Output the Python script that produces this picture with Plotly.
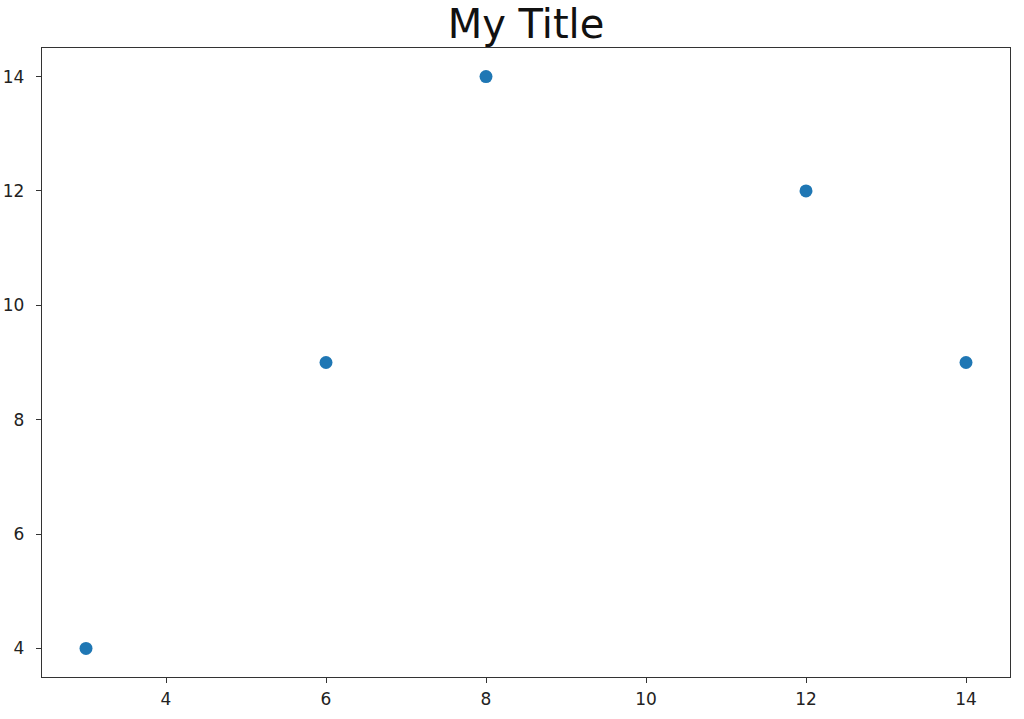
import plotly.graph_objects as go

x_vals = [3, 6, 8, 12, 14]
y_vals = [4, 9, 14, 12, 9]
x_ticks = [4, 6, 8, 10, 12, 14]
y_ticks = [4, 6, 8, 10, 12, 14]

fig = go.Figure(data=go.Scatter(x=x_vals, y=y_vals, mode='markers',
                                marker=dict(size=13, color='#1f77b4')))

axis_style = dict(showline=True, mirror=True, linecolor='#333333', linewidth=1.3,
                  ticks='outside', ticklen=5, tickwidth=1.2, tickcolor='#333333',
                  showgrid=False, zeroline=False, automargin=False,
                  tickfont=dict(family='DejaVu Sans', size=17, color='#222222'))

fig.update_layout(
    width=1024, height=719,
    paper_bgcolor='white', plot_bgcolor='white',
    margin=dict(l=42, r=14, t=48, b=42),
    title=dict(text='My Title', x=526 / 1024, xanchor='center',
               y=1 - 24 / 719, yanchor='middle', yref='container',
               font=dict(family='DejaVu Sans', size=40, color='#111111')),
    xaxis=dict(range=[2.45, 14.55], tickvals=x_ticks, ticklabelstandoff=1, **axis_style),
    yaxis=dict(range=[3.5, 14.5], tickvals=y_ticks, ticklabelstandoff=8, **axis_style),
    showlegend=False,
)

# drop the browser's default 8px body margin so the figure fills the window
fig.write_html("out.html", config={'displayModeBar': False},
               post_script="document.body.style.margin='0';")
